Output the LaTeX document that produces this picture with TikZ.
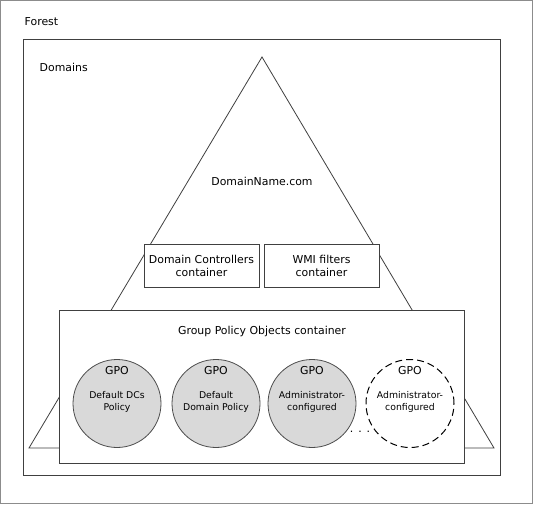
\documentclass[tikz,border=0pt]{standalone}
\usepackage{fontspec}
\setmainfont{DejaVu Sans}
\usetikzlibrary{positioning}

\begin{document}
\begin{tikzpicture}[x=1pt,y=-1pt,line width=0.8pt,
 frame/.style={draw=black!75,fill=white},
 box/.style={frame,align=center,inner sep=0pt,font=\fontsize{10.9}{13}\selectfont},
 gpo/.style={circle,draw=black!70,fill=gray!30,minimum size=88pt,inner sep=0pt},
 extra gpo/.style={gpo,fill=white,draw=black,dash pattern=on 7pt off 4pt,line width=1pt},
 big/.style={font=\fontsize{10.9}{13}\selectfont},
 small/.style={font=\fontsize{9.3}{12}\selectfont,align=center}]
\useasboundingbox (0,0) rectangle (533,504);
\draw[black!45] (0.5,0.5) rectangle (532.5,503.5);
\node[big,anchor=west](forest) at (21,22){Forest};

\node[frame,minimum width=477pt,minimum height=436pt](domains) at (261.5,257){};
\node[big,anchor=west](dlabel) at (36,67){Domains};

 % domain triangle
\coordinate (apex) at (262,57);
\coordinate (br) at (494,448);
\coordinate (bl) at (29,448);
\draw[black!75] (apex) -- (br) -- (bl) -- cycle;
\node[big](dname) at (262,181){DomainName.com};

\node[box,minimum width=115pt,minimum height=43pt](dc) at (201.5,265.5)
   {Domain Controllers\\container};
\node[box,minimum width=115pt,minimum height=43pt](wmi) at (321.5,265.5)
   {WMI filters\\container};

\node[frame,minimum width=405pt,minimum height=153pt](gpc) at (261.5,386.5){};
\node[big](gptitle) at (262,331){Group Policy Objects container};

 \foreach \n/\x/\t in {g1/117/{Default DCs\\Policy},
     g2/216/{Default\\Domain Policy}, g3/312/{Administrator-\\configured}}{
     \node[gpo](\n) at (\x,403.5){};
     \node[big] at (\x,371){GPO};
     \node[small] at (\x,402){\t};}
\node[extra gpo](g4) at (410,403.5){};
\node[big] at (410,371){GPO};
\node[small] at (410,402){Administrator-\\configured};

\node[big](dots) at (360,432){.\hspace{5pt}.\hspace{5pt}.};
\end{tikzpicture}
\end{document}
